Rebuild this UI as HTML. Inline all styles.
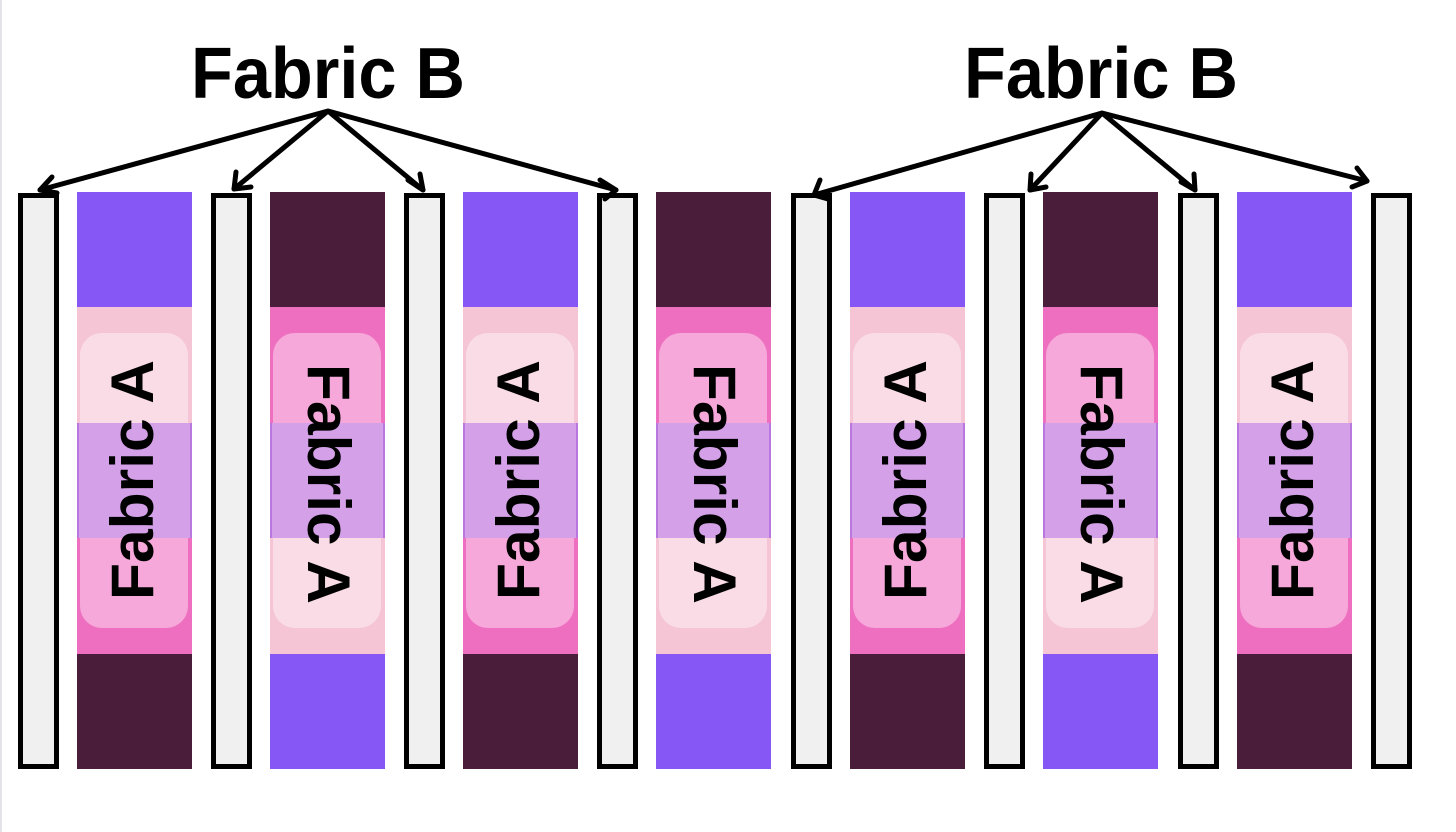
<!DOCTYPE html>
<html><head><meta charset="utf-8"><style>
html,body{margin:0;padding:0;background:#fff;}
svg{display:block;}
</style></head><body>
<svg width="1456" height="832" viewBox="0 0 1456 832" xmlns="http://www.w3.org/2000/svg" font-family="Liberation Sans, sans-serif" font-weight="bold">
<rect x="0" y="0" width="2" height="832" fill="#e4e4e8"/>
<defs>
<g id="t1">
<rect x="0" y="192" width="115" height="115" fill="#8657f5"/>
<rect x="0" y="307" width="115" height="116" fill="#f5c5d5"/>
<rect x="0" y="423" width="115" height="115" fill="#d4a0e8"/>
<rect x="0" y="538" width="115" height="116" fill="#ee6fc0"/>
<rect x="0" y="654" width="115" height="115" fill="#4a1e3a"/>
<rect x="0" y="423" width="2" height="115" fill="#b878e0"/><rect x="113" y="423" width="2" height="115" fill="#b878e0"/>
<rect x="3" y="333" width="108" height="295" rx="22" fill="#ffffff" fill-opacity="0.4"/>
<rect x="3" y="423" width="108" height="115" fill="#d4a0e8"/>
<text transform="translate(76,480) rotate(-90)" text-anchor="middle" font-size="60" textLength="240" lengthAdjust="spacingAndGlyphs" fill="#000">Fabric A</text>
</g>
<g id="t2">
<rect x="0" y="192" width="115" height="115" fill="#4a1e3a"/>
<rect x="0" y="307" width="115" height="116" fill="#ee6fc0"/>
<rect x="0" y="423" width="115" height="115" fill="#d4a0e8"/>
<rect x="0" y="538" width="115" height="116" fill="#f5c5d5"/>
<rect x="0" y="654" width="115" height="115" fill="#8657f5"/>
<rect x="0" y="423" width="2" height="115" fill="#b878e0"/><rect x="113" y="423" width="2" height="115" fill="#b878e0"/>
<rect x="3" y="333" width="108" height="295" rx="22" fill="#ffffff" fill-opacity="0.4"/>
<rect x="3" y="423" width="108" height="115" fill="#d4a0e8"/>
<text transform="translate(38,484) rotate(90)" text-anchor="middle" font-size="60" textLength="240" lengthAdjust="spacingAndGlyphs" fill="#000">Fabric A</text>
</g>
<g id="strip"><rect x="2.5" y="195.5" width="36" height="571" fill="#f0f0f0" stroke="#000" stroke-width="5"/></g>
</defs>
<use href="#strip" x="18"/><use href="#strip" x="211"/><use href="#strip" x="404"/><use href="#strip" x="597"/>
<use href="#strip" x="791"/><use href="#strip" x="984"/><use href="#strip" x="1178"/><use href="#strip" x="1371"/>
<use href="#t1" x="77"/><use href="#t2" x="270"/><use href="#t1" x="463"/><use href="#t2" x="656"/>
<use href="#t1" x="850"/><use href="#t2" x="1043"/><use href="#t1" x="1237"/>
<text x="328" y="98" text-anchor="middle" font-size="72" textLength="274" lengthAdjust="spacingAndGlyphs">Fabric B</text>
<text x="1101" y="98" text-anchor="middle" font-size="72" textLength="274" lengthAdjust="spacingAndGlyphs">Fabric B</text>
<g stroke="#000" stroke-width="5" fill="none" stroke-linecap="round" stroke-linejoin="round">
<path d="M328 111 L40 190 M328 111 L234 189 M328 111 L423 190 M328 111 L616 190"/>
<path d="M52 177 L40 190 L57 193 M236 172 L234 189 M234 189 L251 187 M408 180 L423 190 L420 174 M600 180 L616 190 L605 199"/>
<path d="M1102 113 L814 195 M1102 113 L1030 190 M1102 113 L1195 190 M1102 113 L1367 181"/>
<path d="M820 180 L814 195 L828 199 M1031 174 L1030 190 L1046 187 M1181 182 L1195 190 L1194 174 M1357 168 L1367 181 L1352 187"/>
</g>
</svg>
</body></html>
